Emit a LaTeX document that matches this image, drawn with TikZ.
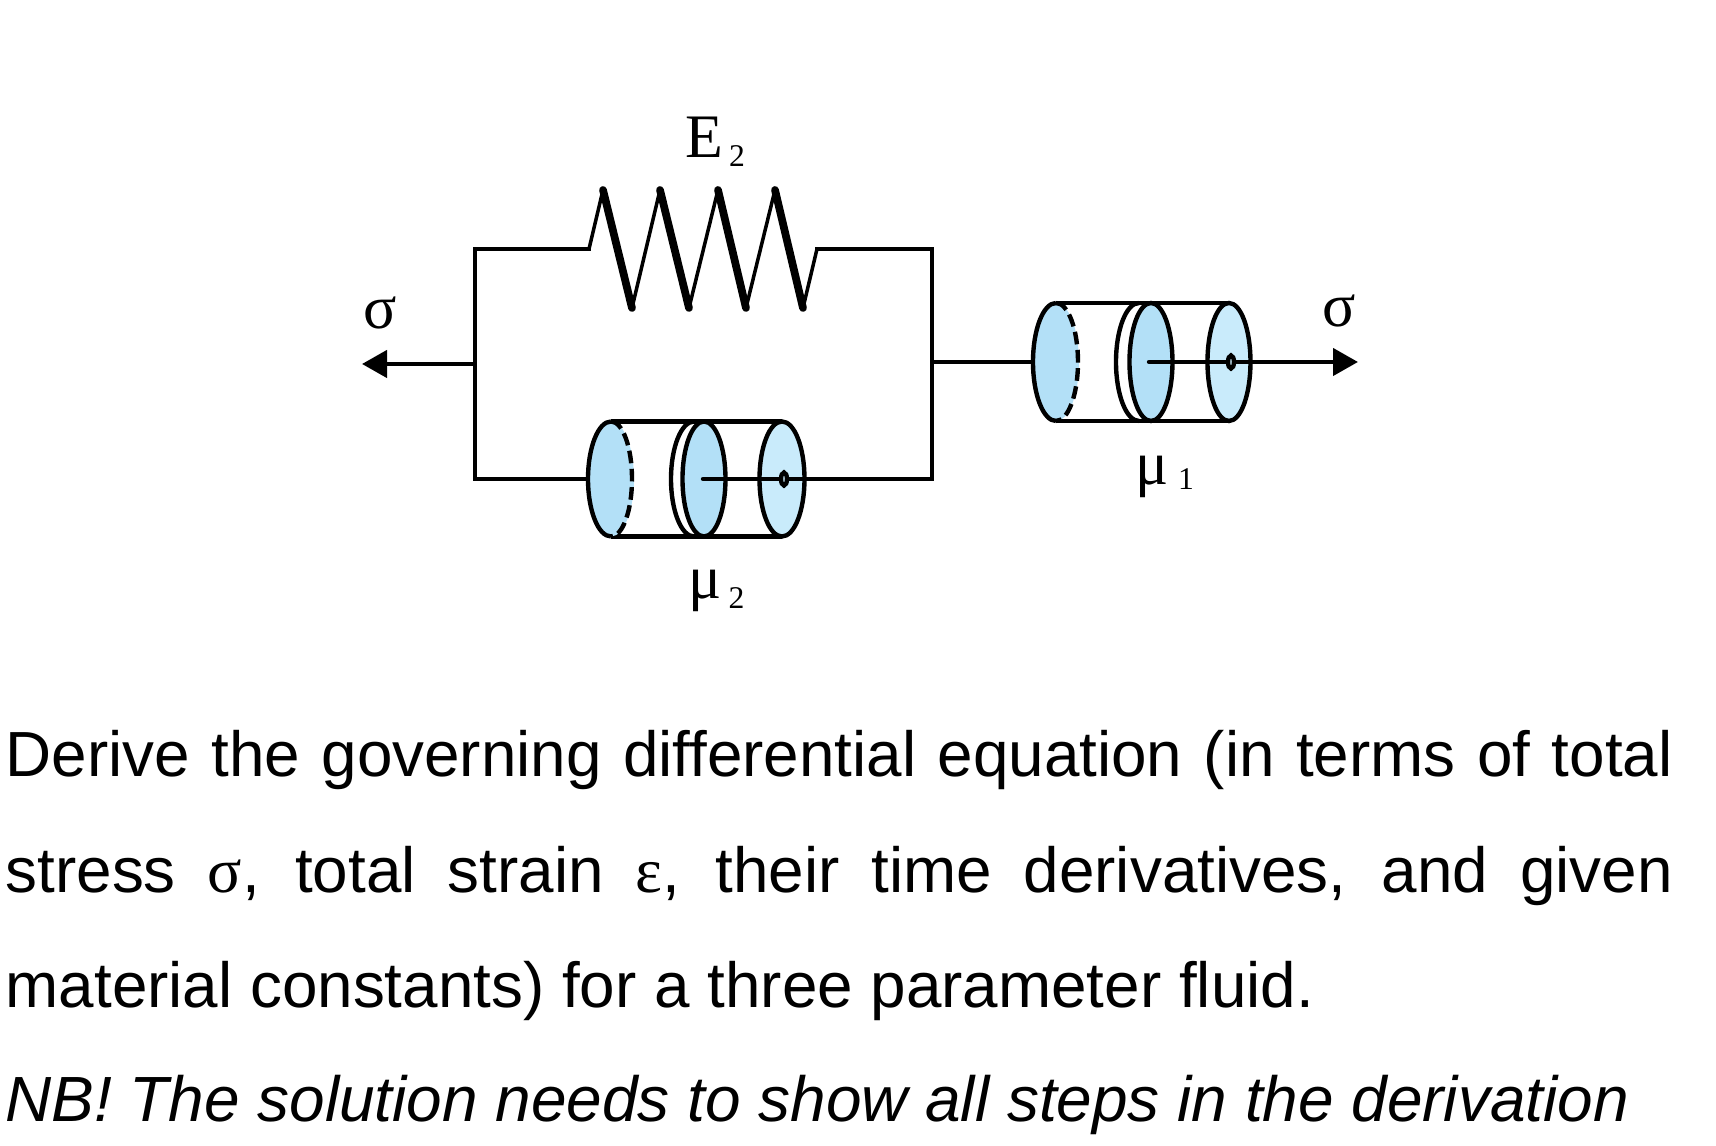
\documentclass[tikz,border=0pt]{standalone}
\usepackage{fontspec}
\setmainfont{Liberation Sans}
\newfontfamily\timesfont{Liberation Serif}
\usetikzlibrary{arrows.meta,positioning,calc}
\newcommand{\labelfont}{\timesfont\fontsize{17.6}{20}\selectfont}
\newcommand{\indexfont}{\timesfont\fontsize{9}{10}\selectfont}
\tikzset{
  wire/.style={line width=1.25pt},
  coildown/.style={line width=2.2pt,line cap=round},
  coilup/.style={line width=1pt,line cap=round},
  pull/.style={line width=1.25pt,-{Triangle[length=.25cm,width=.27cm]}},
  hidden/.style={line width=1.25pt,dash pattern=on 3.6pt off 1.6pt},
  darkblue/.style={fill=capblue},
  lightblue/.style={fill=endblue},
  element/.style={inner sep=0pt,anchor=base west,font=\labelfont},
  body/.style={inner sep=0pt,anchor=base west,text width=16.67cm,align=justify}
}
\definecolor{capblue}{HTML}{B3E0F7}
\definecolor{endblue}{HTML}{C9EBFB}

\begin{document}
\begin{tikzpicture}
\useasboundingbox (0,0) rectangle (17.16,11.46);
% junctions
\coordinate (lefttop) at (4.75,8.97);
\coordinate (leftmid) at (4.75,7.82);
\coordinate (leftbot) at (4.75,6.67);
\coordinate (righttop) at (9.32,8.97);
\coordinate (rightmid) at (9.32,7.84);
\coordinate (rightbot) at (9.32,6.67);
\coordinate (springin) at (5.89,8.97);
\coordinate (springout) at (8.17,8.97);
\coordinate (pullleft) at (3.62,7.82);
\coordinate (pullright) at (13.58,7.84);
\coordinate (dashtwoin) at (5.88,6.67);
\coordinate (dashtwoout) at (7.84,6.67);
\coordinate (dashonein) at (10.33,7.84);
\coordinate (dashoneout) at (12.31,7.84);
% frame
\draw[wire,line cap=rect] (springin) -- (lefttop) -- (leftbot) -- (dashtwoin);
\draw[wire,line cap=rect] (springout) -- (righttop) -- (rightbot);
\draw[wire] (rightmid) -- (dashonein);
\draw[pull] (leftmid) -- (pullleft);
% spring
\draw[coilup] (springin) -- (6.03,9.56);
\draw[coildown] (6.03,9.56) -- (6.32,8.38);
\draw[coilup] (6.32,8.38) -- (6.60,9.56);
\draw[coildown] (6.60,9.56) -- (6.89,8.38);
\draw[coilup] (6.89,8.38) -- (7.18,9.56);
\draw[coildown] (7.18,9.56) -- (7.46,8.38);
\draw[coilup] (7.46,8.38) -- (7.75,9.56);
\draw[coildown] (7.75,9.56) -- (8.03,8.38);
\draw[coilup] (8.03,8.38) -- (springout);
% lower dashpot
\draw[wire] (6.11,7.245) -- (7.82,7.245);
\draw[wire] (6.11,6.095) -- (7.82,6.095);
\fill[darkblue] (6.11,7.245) arc[start angle=90,end angle=450,x radius=.23,y radius=.575];
\draw[wire] (6.11,7.245) arc[start angle=90,end angle=270,x radius=.23,y radius=.575];
\draw[hidden] (6.11,7.245) arc[start angle=90,end angle=-90,x radius=.21,y radius=.575];
\draw[wire] (6.94,7.245) arc[start angle=90,end angle=270,x radius=.23,y radius=.575];
\draw[wire,darkblue] (7.04,6.67) ellipse (.215 and .575);
\draw[wire,lightblue] (7.82,6.67) ellipse (.225 and .575);
\draw[wire,line cap=round] (7.03,6.67) -- (dashtwoout);
\draw[wire] (dashtwoout) -- (rightbot);
\draw[wire,lightblue] (dashtwoout) ellipse (.03 and .065);
% upper dashpot
\draw[wire] (10.56,8.43) -- (12.29,8.43);
\draw[wire] (10.56,7.25) -- (12.29,7.25);
\fill[darkblue] (10.56,8.43) arc[start angle=90,end angle=450,x radius=.23,y radius=.59];
\draw[wire] (10.56,8.43) arc[start angle=90,end angle=270,x radius=.23,y radius=.59];
\draw[hidden] (10.56,8.43) arc[start angle=90,end angle=-90,x radius=.22,y radius=.59];
\draw[wire] (11.39,8.43) arc[start angle=90,end angle=270,x radius=.23,y radius=.59];
\draw[wire,darkblue] (11.51,7.84) ellipse (.215 and .59);
\draw[wire,lightblue] (12.29,7.84) ellipse (.215 and .59);
\draw[wire,line cap=round] (11.49,7.84) -- (dashoneout);
\draw[pull] (dashoneout) -- (pullright);
\draw[wire,lightblue] (dashoneout) ellipse (.03 and .065);
% labels
\node[element] (springlabel) at (6.85,9.88) {E\raisebox{-2.3pt}{\kern1.6pt\indexfont 2}};
\node[element] (dashtwolabel) at (6.88,5.47) {μ\raisebox{-2.6pt}{\kern1.9pt\indexfont 2}};
\node[element] (dashonelabel) at (11.35,6.61) {μ\raisebox{-1.4pt}{\kern2.6pt\indexfont 1}};
\node[element] (sigmaleft) at (3.63,8.17) {σ};
\node[element] (sigmaright) at (13.22,8.19) {σ};
% question
\node[body,font=\fontsize{18.15}{32.76}\selectfont] (question) at (.05,3.69)
  {Derive the governing differential equation (in terms of total\linebreak stress {\timesfont σ}, total strain {\timesfont ε}, their time derivatives, and given\linebreak material constants) for a three parameter fluid.};
\node[inner sep=0pt,anchor=base west,font=\fontsize{18.18}{32.76}\selectfont\itshape] (remark) at (.05,.24)
  {NB! The solution needs to show all steps in the derivation};
\end{tikzpicture}
\end{document}
